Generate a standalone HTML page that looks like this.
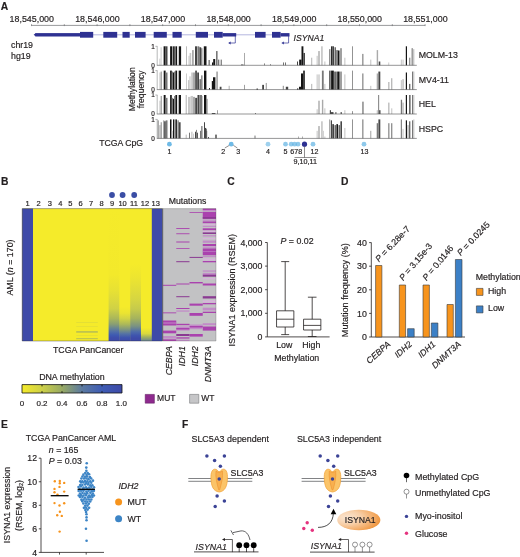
<!DOCTYPE html>
<html lang="en"><head><meta charset="utf-8"><title>ISYNA1 methylation figure</title>
<style>
html,body{margin:0;padding:0;background:#fff;}
body{width:520px;height:557px;overflow:hidden;font-family:"Liberation Sans",Arial,Helvetica,sans-serif;}
svg{display:block;}
</style></head><body>
<svg width="520" height="557" viewBox="0 0 520 557" font-family="'Liberation Sans', Arial, Helvetica, sans-serif" stroke-linejoin="round">
<style>text{stroke:#231f20;stroke-width:0.18px;}</style>
<text x="0.80" y="9.90" font-size="10.3" font-weight="bold" fill="#231f20">A</text>
<text x="1.00" y="185.30" font-size="10.3" font-weight="bold" fill="#231f20">B</text>
<text x="227.30" y="185.30" font-size="10.3" font-weight="bold" fill="#231f20">C</text>
<text x="341.00" y="185.30" font-size="10.3" font-weight="bold" fill="#231f20">D</text>
<text x="1.00" y="427.60" font-size="10.3" font-weight="bold" fill="#231f20">E</text>
<text x="182.00" y="427.60" font-size="10.3" font-weight="bold" fill="#231f20">F</text>
<line x1="31.50" y1="25.40" x2="425.10" y2="25.40" stroke="#6d6e71" stroke-width="0.7"/>
<line x1="31.50" y1="26.10" x2="31.50" y2="24.20" stroke="#6d6e71" stroke-width="0.7"/>
<line x1="64.30" y1="26.10" x2="64.30" y2="24.20" stroke="#6d6e71" stroke-width="0.7"/>
<line x1="97.10" y1="26.10" x2="97.10" y2="24.20" stroke="#6d6e71" stroke-width="0.7"/>
<line x1="129.90" y1="26.10" x2="129.90" y2="24.20" stroke="#6d6e71" stroke-width="0.7"/>
<line x1="162.70" y1="26.10" x2="162.70" y2="24.20" stroke="#6d6e71" stroke-width="0.7"/>
<line x1="195.50" y1="26.10" x2="195.50" y2="24.20" stroke="#6d6e71" stroke-width="0.7"/>
<line x1="228.30" y1="26.10" x2="228.30" y2="24.20" stroke="#6d6e71" stroke-width="0.7"/>
<line x1="261.10" y1="26.10" x2="261.10" y2="24.20" stroke="#6d6e71" stroke-width="0.7"/>
<line x1="293.90" y1="26.10" x2="293.90" y2="24.20" stroke="#6d6e71" stroke-width="0.7"/>
<line x1="326.70" y1="26.10" x2="326.70" y2="24.20" stroke="#6d6e71" stroke-width="0.7"/>
<line x1="359.50" y1="26.10" x2="359.50" y2="24.20" stroke="#6d6e71" stroke-width="0.7"/>
<line x1="392.30" y1="26.10" x2="392.30" y2="24.20" stroke="#6d6e71" stroke-width="0.7"/>
<line x1="425.10" y1="26.10" x2="425.10" y2="24.20" stroke="#6d6e71" stroke-width="0.7"/>
<text x="31.80" y="22.40" font-size="8.9" text-anchor="middle" fill="#231f20">18,545,000</text>
<text x="97.40" y="22.40" font-size="8.9" text-anchor="middle" fill="#231f20">18,546,000</text>
<text x="163.00" y="22.40" font-size="8.9" text-anchor="middle" fill="#231f20">18,547,000</text>
<text x="228.60" y="22.40" font-size="8.9" text-anchor="middle" fill="#231f20">18,548,000</text>
<text x="294.20" y="22.40" font-size="8.9" text-anchor="middle" fill="#231f20">18,549,000</text>
<text x="359.80" y="22.40" font-size="8.9" text-anchor="middle" fill="#231f20">18,550,000</text>
<text x="425.40" y="22.40" font-size="8.9" text-anchor="middle" fill="#231f20">18,551,000</text>
<line x1="35.00" y1="34.80" x2="289.00" y2="34.80" stroke="#6a6fc0" stroke-width="0.5"/>
<path d="M33.6,34.8 L36,33.0 L36,36.599999999999994 Z" fill="#2e3192"/>
<rect x="35.50" y="33.10" width="44.50" height="3.40" fill="#2e3192"/>
<rect x="80.00" y="31.90" width="13.20" height="5.80" fill="#2e3192"/>
<rect x="103.30" y="31.90" width="13.90" height="5.80" fill="#2e3192"/>
<rect x="122.50" y="31.90" width="7.20" height="5.80" fill="#2e3192"/>
<rect x="135.00" y="31.90" width="10.60" height="5.80" fill="#2e3192"/>
<rect x="153.70" y="31.90" width="13.10" height="5.80" fill="#2e3192"/>
<rect x="172.50" y="31.90" width="9.20" height="5.80" fill="#2e3192"/>
<rect x="195.80" y="31.90" width="12.20" height="5.80" fill="#2e3192"/>
<rect x="214.00" y="31.90" width="8.70" height="5.80" fill="#2e3192"/>
<rect x="255.00" y="31.90" width="10.60" height="5.80" fill="#2e3192"/>
<rect x="272.00" y="31.90" width="8.60" height="5.80" fill="#2e3192"/>
<rect x="222.50" y="33.10" width="13.70" height="3.40" fill="#2e3192"/>
<rect x="280.50" y="33.10" width="9.00" height="3.40" fill="#2e3192"/>
<path d="M235.3,34.8 V43 H229.8" fill="none" stroke="#2e3192" stroke-width="0.7"/>
<path d="M228.20000000000002,43 L230.60000000000002,41.5 L230.60000000000002,44.5 Z" fill="#2e3192"/>
<path d="M288.6,34.8 V43 H283" fill="none" stroke="#2e3192" stroke-width="0.7"/>
<path d="M281.4,43 L283.8,41.5 L283.8,44.5 Z" fill="#2e3192"/>
<text x="293.60" y="40.60" font-size="8.6" font-style="italic" fill="#231f20">ISYNA1</text>
<text x="11.00" y="47.60" font-size="8.8" fill="#231f20">chr19</text>
<text x="11.00" y="59.20" font-size="8.8" fill="#231f20">hg19</text>
<rect x="159.40" y="58.65" width="0.90" height="6.65" fill="#c8c8c8"/>
<rect x="160.60" y="47.25" width="1.00" height="18.05" fill="#c8c8c8"/>
<rect x="163.60" y="46.30" width="2.00" height="19.00" fill="#141414"/>
<rect x="165.60" y="46.30" width="1.90" height="19.00" fill="#464646"/>
<rect x="170.10" y="46.30" width="2.30" height="19.00" fill="#141414"/>
<rect x="173.10" y="46.30" width="1.60" height="19.00" fill="#141414"/>
<rect x="175.40" y="46.30" width="1.70" height="19.00" fill="#141414"/>
<rect x="178.80" y="46.30" width="2.30" height="19.00" fill="#141414"/>
<rect x="186.00" y="46.30" width="0.80" height="19.00" fill="#aaaaaa"/>
<rect x="188.50" y="55.80" width="1.10" height="9.50" fill="#c8c8c8"/>
<rect x="189.60" y="52.95" width="1.60" height="12.35" fill="#c8c8c8"/>
<rect x="192.00" y="50.10" width="1.80" height="15.20" fill="#aaaaaa"/>
<rect x="195.00" y="46.30" width="2.00" height="19.00" fill="#464646"/>
<rect x="197.40" y="46.30" width="1.90" height="19.00" fill="#787878"/>
<rect x="199.40" y="47.25" width="1.80" height="18.05" fill="#464646"/>
<rect x="201.20" y="48.20" width="1.20" height="17.10" fill="#787878"/>
<rect x="203.80" y="46.30" width="2.70" height="19.00" fill="#141414"/>
<rect x="208.70" y="59.98" width="0.80" height="5.32" fill="#141414"/>
<rect x="212.00" y="62.45" width="1.20" height="2.85" fill="#141414"/>
<rect x="213.20" y="59.03" width="2.00" height="6.27" fill="#141414"/>
<rect x="216.00" y="51.05" width="1.60" height="14.25" fill="#787878"/>
<rect x="218.00" y="59.60" width="1.30" height="5.70" fill="#787878"/>
<rect x="220.80" y="59.60" width="0.70" height="5.70" fill="#141414"/>
<rect x="241.00" y="64.35" width="2.50" height="0.95" fill="#787878"/>
<rect x="244.00" y="52.95" width="1.00" height="12.35" fill="#aaaaaa"/>
<rect x="264.00" y="63.40" width="0.50" height="1.90" fill="#141414"/>
<rect x="270.00" y="64.16" width="0.50" height="1.14" fill="#141414"/>
<rect x="283.20" y="62.45" width="0.60" height="2.85" fill="#141414"/>
<rect x="285.20" y="62.45" width="0.60" height="2.85" fill="#141414"/>
<rect x="297.00" y="61.50" width="0.80" height="3.80" fill="#141414"/>
<rect x="299.20" y="59.60" width="2.30" height="5.70" fill="#141414"/>
<rect x="301.50" y="46.30" width="1.90" height="19.00" fill="#141414"/>
<rect x="303.40" y="52.95" width="1.60" height="12.35" fill="#464646"/>
<rect x="311.30" y="57.70" width="0.90" height="7.60" fill="#aaaaaa"/>
<rect x="316.60" y="55.80" width="1.10" height="9.50" fill="#c8c8c8"/>
<rect x="318.30" y="51.05" width="1.40" height="14.25" fill="#aaaaaa"/>
<rect x="321.40" y="46.30" width="1.10" height="19.00" fill="#aaaaaa"/>
<rect x="324.30" y="61.50" width="1.10" height="3.80" fill="#c8c8c8"/>
<rect x="329.20" y="49.15" width="1.20" height="16.15" fill="#787878"/>
<rect x="331.10" y="46.30" width="1.30" height="19.00" fill="#141414"/>
<rect x="332.60" y="46.30" width="1.20" height="19.00" fill="#141414"/>
<rect x="334.60" y="47.25" width="1.20" height="18.05" fill="#464646"/>
<rect x="336.40" y="50.10" width="1.30" height="15.20" fill="#464646"/>
<rect x="338.00" y="50.48" width="1.50" height="14.82" fill="#141414"/>
<rect x="340.30" y="48.20" width="1.40" height="17.10" fill="#787878"/>
<rect x="344.30" y="57.70" width="1.10" height="7.60" fill="#c8c8c8"/>
<rect x="352.20" y="46.30" width="0.80" height="19.00" fill="#787878"/>
<rect x="362.30" y="53.90" width="1.10" height="11.40" fill="#787878"/>
<rect x="370.20" y="59.60" width="1.10" height="5.70" fill="#c8c8c8"/>
<rect x="376.70" y="50.10" width="1.40" height="15.20" fill="#aaaaaa"/>
<rect x="378.70" y="61.50" width="1.60" height="3.80" fill="#464646"/>
<rect x="388.30" y="62.45" width="0.90" height="2.85" fill="#c8c8c8"/>
<rect x="400.80" y="59.60" width="1.10" height="5.70" fill="#c8c8c8"/>
<rect x="402.50" y="59.60" width="1.10" height="5.70" fill="#c8c8c8"/>
<rect x="405.80" y="46.30" width="1.20" height="19.00" fill="#141414"/>
<rect x="409.20" y="57.70" width="1.10" height="7.60" fill="#787878"/>
<rect x="411.60" y="48.20" width="1.20" height="17.10" fill="#787878"/>
<rect x="412.80" y="49.15" width="1.60" height="16.15" fill="#c8c8c8"/>
<line x1="156.80" y1="65.30" x2="416.80" y2="65.30" stroke="#4d4d4f" stroke-width="0.6"/>
<line x1="157.20" y1="65.30" x2="157.20" y2="46.30" stroke="#6d6e71" stroke-width="0.5"/>
<line x1="155.40" y1="46.30" x2="157.40" y2="46.30" stroke="#6d6e71" stroke-width="0.5"/>
<text x="154.80" y="48.60" font-size="6.4" text-anchor="end" fill="#231f20">1</text>
<text x="154.80" y="67.60" font-size="6.4" text-anchor="end" fill="#231f20">0</text>
<rect x="159.40" y="72.50" width="1.20" height="17.10" fill="#c8c8c8"/>
<rect x="160.60" y="71.55" width="1.40" height="18.05" fill="#aaaaaa"/>
<rect x="163.70" y="70.60" width="1.90" height="19.00" fill="#141414"/>
<rect x="165.60" y="72.50" width="1.90" height="17.10" fill="#787878"/>
<rect x="170.10" y="70.60" width="1.70" height="19.00" fill="#141414"/>
<rect x="171.80" y="71.55" width="1.10" height="18.05" fill="#787878"/>
<rect x="172.90" y="72.50" width="1.20" height="17.10" fill="#141414"/>
<rect x="174.10" y="71.55" width="1.20" height="18.05" fill="#787878"/>
<rect x="175.40" y="70.60" width="1.70" height="19.00" fill="#141414"/>
<rect x="178.70" y="70.60" width="2.30" height="19.00" fill="#141414"/>
<rect x="186.00" y="73.45" width="0.90" height="16.15" fill="#c8c8c8"/>
<rect x="188.00" y="80.10" width="1.40" height="9.50" fill="#c8c8c8"/>
<rect x="189.40" y="76.30" width="1.20" height="13.30" fill="#c8c8c8"/>
<rect x="191.20" y="72.50" width="1.80" height="17.10" fill="#c8c8c8"/>
<rect x="193.00" y="72.50" width="2.00" height="17.10" fill="#aaaaaa"/>
<rect x="195.20" y="70.60" width="1.70" height="19.00" fill="#464646"/>
<rect x="197.20" y="72.50" width="1.80" height="17.10" fill="#464646"/>
<rect x="199.40" y="79.15" width="1.80" height="10.45" fill="#787878"/>
<rect x="201.20" y="75.35" width="1.30" height="14.25" fill="#787878"/>
<rect x="204.00" y="70.60" width="2.40" height="19.00" fill="#141414"/>
<rect x="209.00" y="88.08" width="1.00" height="1.52" fill="#141414"/>
<rect x="211.80" y="81.05" width="1.20" height="8.55" fill="#141414"/>
<rect x="213.00" y="77.25" width="2.40" height="12.35" fill="#141414"/>
<rect x="216.50" y="71.55" width="1.10" height="18.05" fill="#787878"/>
<rect x="219.70" y="86.75" width="1.80" height="2.85" fill="#464646"/>
<rect x="228.80" y="85.80" width="0.60" height="3.80" fill="#787878"/>
<rect x="244.30" y="84.85" width="0.70" height="4.75" fill="#787878"/>
<rect x="256.50" y="88.65" width="1.50" height="0.95" fill="#141414"/>
<rect x="262.20" y="84.85" width="1.80" height="4.75" fill="#464646"/>
<rect x="265.80" y="82.95" width="0.80" height="6.65" fill="#787878"/>
<rect x="282.80" y="85.80" width="0.90" height="3.80" fill="#787878"/>
<rect x="285.80" y="86.75" width="2.40" height="2.85" fill="#464646"/>
<rect x="297.00" y="88.46" width="1.30" height="1.14" fill="#141414"/>
<rect x="299.00" y="86.75" width="2.00" height="2.85" fill="#141414"/>
<rect x="301.00" y="73.45" width="2.00" height="16.15" fill="#141414"/>
<rect x="303.00" y="70.60" width="2.00" height="19.00" fill="#464646"/>
<rect x="311.30" y="83.90" width="0.90" height="5.70" fill="#aaaaaa"/>
<rect x="316.60" y="74.40" width="1.10" height="15.20" fill="#c8c8c8"/>
<rect x="318.30" y="74.40" width="1.40" height="15.20" fill="#c8c8c8"/>
<rect x="321.90" y="70.60" width="1.80" height="19.00" fill="#787878"/>
<rect x="324.30" y="83.90" width="1.10" height="5.70" fill="#c8c8c8"/>
<rect x="329.20" y="70.60" width="1.40" height="19.00" fill="#464646"/>
<rect x="331.10" y="70.60" width="2.70" height="19.00" fill="#141414"/>
<rect x="334.30" y="71.55" width="1.50" height="18.05" fill="#464646"/>
<rect x="336.40" y="71.55" width="1.60" height="18.05" fill="#464646"/>
<rect x="338.00" y="71.55" width="1.60" height="18.05" fill="#141414"/>
<rect x="340.30" y="71.55" width="1.40" height="18.05" fill="#787878"/>
<rect x="344.30" y="74.40" width="1.10" height="15.20" fill="#c8c8c8"/>
<rect x="352.20" y="70.60" width="0.80" height="19.00" fill="#787878"/>
<rect x="362.30" y="73.45" width="1.10" height="16.15" fill="#787878"/>
<rect x="370.20" y="85.80" width="1.10" height="3.80" fill="#c8c8c8"/>
<rect x="376.70" y="73.45" width="1.40" height="16.15" fill="#aaaaaa"/>
<rect x="378.40" y="71.55" width="1.90" height="18.05" fill="#464646"/>
<rect x="388.30" y="82.00" width="1.10" height="7.60" fill="#aaaaaa"/>
<rect x="391.20" y="78.20" width="1.10" height="11.40" fill="#aaaaaa"/>
<rect x="400.80" y="80.10" width="1.10" height="9.50" fill="#c8c8c8"/>
<rect x="402.50" y="79.15" width="1.10" height="10.45" fill="#aaaaaa"/>
<rect x="405.80" y="72.50" width="1.20" height="17.10" fill="#141414"/>
<rect x="409.20" y="83.90" width="1.10" height="5.70" fill="#464646"/>
<rect x="412.00" y="71.55" width="1.30" height="18.05" fill="#787878"/>
<rect x="413.30" y="71.55" width="1.10" height="18.05" fill="#c8c8c8"/>
<line x1="156.80" y1="89.60" x2="416.80" y2="89.60" stroke="#4d4d4f" stroke-width="0.6"/>
<line x1="157.20" y1="89.60" x2="157.20" y2="70.60" stroke="#6d6e71" stroke-width="0.5"/>
<line x1="155.40" y1="70.60" x2="157.40" y2="70.60" stroke="#6d6e71" stroke-width="0.5"/>
<text x="154.80" y="72.90" font-size="6.4" text-anchor="end" fill="#231f20">1</text>
<text x="154.80" y="91.90" font-size="6.4" text-anchor="end" fill="#231f20">0</text>
<rect x="159.40" y="100.70" width="1.20" height="13.30" fill="#c8c8c8"/>
<rect x="160.60" y="95.95" width="1.40" height="18.05" fill="#aaaaaa"/>
<rect x="163.70" y="95.00" width="1.90" height="19.00" fill="#141414"/>
<rect x="165.60" y="97.85" width="1.90" height="16.15" fill="#787878"/>
<rect x="170.10" y="95.00" width="1.70" height="19.00" fill="#141414"/>
<rect x="171.80" y="97.85" width="1.10" height="16.15" fill="#787878"/>
<rect x="172.90" y="98.80" width="1.20" height="15.20" fill="#141414"/>
<rect x="174.10" y="95.95" width="1.20" height="18.05" fill="#787878"/>
<rect x="175.40" y="95.00" width="1.70" height="19.00" fill="#141414"/>
<rect x="178.70" y="95.00" width="2.30" height="19.00" fill="#141414"/>
<rect x="185.60" y="95.00" width="1.40" height="19.00" fill="#c8c8c8"/>
<rect x="188.00" y="96.90" width="2.60" height="17.10" fill="#c8c8c8"/>
<rect x="190.60" y="95.95" width="2.40" height="18.05" fill="#c8c8c8"/>
<rect x="193.00" y="96.90" width="2.00" height="17.10" fill="#aaaaaa"/>
<rect x="195.20" y="97.85" width="2.00" height="16.15" fill="#464646"/>
<rect x="197.50" y="95.00" width="1.90" height="19.00" fill="#464646"/>
<rect x="199.40" y="95.00" width="2.60" height="19.00" fill="#787878"/>
<rect x="202.00" y="95.95" width="1.00" height="18.05" fill="#c8c8c8"/>
<rect x="204.00" y="95.00" width="2.40" height="19.00" fill="#141414"/>
<rect x="206.50" y="98.80" width="1.00" height="15.20" fill="#787878"/>
<rect x="211.80" y="113.24" width="3.60" height="0.76" fill="#141414"/>
<rect x="217.00" y="110.20" width="0.70" height="3.80" fill="#787878"/>
<rect x="255.00" y="113.05" width="0.60" height="0.95" fill="#141414"/>
<rect x="316.60" y="109.25" width="1.10" height="4.75" fill="#c8c8c8"/>
<rect x="318.30" y="100.70" width="1.40" height="13.30" fill="#aaaaaa"/>
<rect x="321.90" y="99.75" width="1.40" height="14.25" fill="#aaaaaa"/>
<rect x="324.30" y="108.30" width="1.10" height="5.70" fill="#c8c8c8"/>
<rect x="329.80" y="110.20" width="1.20" height="3.80" fill="#464646"/>
<rect x="331.00" y="112.10" width="2.50" height="1.90" fill="#464646"/>
<rect x="335.40" y="112.10" width="1.00" height="1.90" fill="#464646"/>
<rect x="340.60" y="112.10" width="1.20" height="1.90" fill="#464646"/>
<rect x="344.30" y="110.20" width="1.10" height="3.80" fill="#c8c8c8"/>
<rect x="352.20" y="111.15" width="0.80" height="2.85" fill="#787878"/>
<rect x="362.30" y="101.65" width="1.30" height="12.35" fill="#787878"/>
<rect x="376.70" y="110.20" width="1.40" height="3.80" fill="#c8c8c8"/>
<rect x="378.40" y="95.00" width="0.70" height="19.00" fill="#464646"/>
<rect x="379.10" y="110.20" width="1.40" height="3.80" fill="#464646"/>
<rect x="388.30" y="102.60" width="1.10" height="11.40" fill="#aaaaaa"/>
<rect x="391.20" y="108.30" width="1.10" height="5.70" fill="#c8c8c8"/>
<rect x="400.80" y="99.75" width="1.30" height="14.25" fill="#787878"/>
<rect x="402.50" y="102.60" width="1.10" height="11.40" fill="#aaaaaa"/>
<rect x="405.80" y="95.00" width="1.20" height="19.00" fill="#141414"/>
<rect x="409.20" y="95.00" width="1.30" height="19.00" fill="#464646"/>
<rect x="412.00" y="95.00" width="1.30" height="19.00" fill="#787878"/>
<rect x="413.30" y="95.00" width="1.10" height="19.00" fill="#c8c8c8"/>
<line x1="156.80" y1="114.00" x2="416.80" y2="114.00" stroke="#4d4d4f" stroke-width="0.6"/>
<line x1="157.20" y1="114.00" x2="157.20" y2="95.00" stroke="#6d6e71" stroke-width="0.5"/>
<line x1="155.40" y1="95.00" x2="157.40" y2="95.00" stroke="#6d6e71" stroke-width="0.5"/>
<text x="154.80" y="97.30" font-size="6.4" text-anchor="end" fill="#231f20">1</text>
<text x="154.80" y="116.30" font-size="6.4" text-anchor="end" fill="#231f20">0</text>
<rect x="157.60" y="120.35" width="1.40" height="18.05" fill="#aaaaaa"/>
<rect x="159.40" y="125.10" width="1.20" height="13.30" fill="#aaaaaa"/>
<rect x="160.60" y="122.25" width="1.40" height="16.15" fill="#aaaaaa"/>
<rect x="163.00" y="120.35" width="1.40" height="18.05" fill="#aaaaaa"/>
<rect x="164.40" y="121.30" width="1.20" height="17.10" fill="#141414"/>
<rect x="165.60" y="120.35" width="1.90" height="18.05" fill="#787878"/>
<rect x="170.00" y="119.40" width="1.50" height="19.00" fill="#141414"/>
<rect x="171.50" y="130.80" width="1.00" height="7.60" fill="#aaaaaa"/>
<rect x="173.00" y="119.40" width="1.40" height="19.00" fill="#141414"/>
<rect x="175.40" y="119.40" width="1.50" height="19.00" fill="#141414"/>
<rect x="177.50" y="120.35" width="1.20" height="18.05" fill="#787878"/>
<rect x="178.70" y="122.25" width="1.90" height="16.15" fill="#464646"/>
<rect x="185.60" y="134.60" width="1.30" height="3.80" fill="#c8c8c8"/>
<rect x="189.00" y="132.70" width="1.00" height="5.70" fill="#787878"/>
<rect x="191.20" y="131.75" width="1.30" height="6.65" fill="#c8c8c8"/>
<rect x="193.10" y="133.65" width="0.90" height="4.75" fill="#c8c8c8"/>
<rect x="195.00" y="131.75" width="1.00" height="6.65" fill="#464646"/>
<rect x="196.00" y="129.85" width="0.90" height="8.55" fill="#787878"/>
<rect x="196.90" y="132.70" width="1.00" height="5.70" fill="#464646"/>
<rect x="200.00" y="130.80" width="1.20" height="7.60" fill="#787878"/>
<rect x="201.20" y="126.05" width="1.30" height="12.35" fill="#787878"/>
<rect x="204.00" y="122.25" width="1.00" height="16.15" fill="#464646"/>
<rect x="205.00" y="127.95" width="1.20" height="10.45" fill="#464646"/>
<rect x="206.20" y="130.80" width="1.00" height="7.60" fill="#787878"/>
<rect x="208.20" y="137.07" width="0.80" height="1.33" fill="#141414"/>
<rect x="205.00" y="128.90" width="1.60" height="9.50" fill="#464646"/>
<rect x="215.00" y="134.60" width="2.00" height="3.80" fill="#787878"/>
<rect x="254.50" y="135.55" width="1.00" height="2.85" fill="#787878"/>
<rect x="298.20" y="136.50" width="0.60" height="1.90" fill="#787878"/>
<rect x="302.20" y="136.50" width="0.60" height="1.90" fill="#787878"/>
<rect x="316.60" y="130.80" width="1.10" height="7.60" fill="#c8c8c8"/>
<rect x="318.30" y="126.05" width="1.40" height="12.35" fill="#aaaaaa"/>
<rect x="321.40" y="121.30" width="1.10" height="17.10" fill="#aaaaaa"/>
<rect x="322.90" y="130.80" width="0.90" height="7.60" fill="#c8c8c8"/>
<rect x="324.30" y="136.50" width="1.10" height="1.90" fill="#c8c8c8"/>
<rect x="329.00" y="119.40" width="1.20" height="19.00" fill="#aaaaaa"/>
<rect x="330.80" y="120.35" width="1.20" height="18.05" fill="#464646"/>
<rect x="332.40" y="124.15" width="1.40" height="14.25" fill="#141414"/>
<rect x="334.60" y="125.10" width="1.20" height="13.30" fill="#464646"/>
<rect x="336.40" y="124.15" width="1.60" height="14.25" fill="#141414"/>
<rect x="338.60" y="125.10" width="1.20" height="13.30" fill="#464646"/>
<rect x="340.40" y="121.30" width="1.60" height="17.10" fill="#464646"/>
<rect x="344.30" y="127.95" width="1.10" height="10.45" fill="#c8c8c8"/>
<rect x="352.20" y="119.40" width="0.80" height="19.00" fill="#787878"/>
<rect x="362.30" y="119.40" width="1.10" height="19.00" fill="#787878"/>
<rect x="370.20" y="130.80" width="1.10" height="7.60" fill="#aaaaaa"/>
<rect x="376.70" y="123.20" width="1.40" height="15.20" fill="#787878"/>
<rect x="378.40" y="119.40" width="1.90" height="19.00" fill="#464646"/>
<rect x="388.30" y="123.20" width="1.10" height="15.20" fill="#787878"/>
<rect x="391.20" y="123.20" width="1.10" height="15.20" fill="#787878"/>
<rect x="400.80" y="119.40" width="1.10" height="19.00" fill="#787878"/>
<rect x="402.50" y="128.90" width="1.10" height="9.50" fill="#c8c8c8"/>
<rect x="405.80" y="120.35" width="1.20" height="18.05" fill="#141414"/>
<rect x="407.50" y="125.10" width="1.10" height="13.30" fill="#aaaaaa"/>
<rect x="409.20" y="121.30" width="1.10" height="17.10" fill="#464646"/>
<rect x="412.00" y="120.35" width="1.30" height="18.05" fill="#787878"/>
<rect x="413.30" y="119.40" width="1.10" height="19.00" fill="#c8c8c8"/>
<line x1="156.80" y1="138.40" x2="416.80" y2="138.40" stroke="#4d4d4f" stroke-width="0.6"/>
<line x1="157.20" y1="138.40" x2="157.20" y2="119.40" stroke="#6d6e71" stroke-width="0.5"/>
<line x1="155.40" y1="119.40" x2="157.40" y2="119.40" stroke="#6d6e71" stroke-width="0.5"/>
<text x="154.80" y="121.70" font-size="6.4" text-anchor="end" fill="#231f20">1</text>
<text x="154.80" y="140.70" font-size="6.4" text-anchor="end" fill="#231f20">0</text>
<text x="418.70" y="58.30" font-size="8.8" fill="#231f20">MOLM-13</text>
<text x="418.70" y="82.80" font-size="8.8" fill="#231f20">MV4-11</text>
<text x="418.70" y="107.10" font-size="8.8" fill="#231f20">HEL</text>
<text x="418.70" y="131.90" font-size="8.8" fill="#231f20">HSPC</text>
<text transform="translate(134.60,89.30) rotate(-90)" font-size="8.6" text-anchor="middle" fill="#231f20">Methylation</text>
<text transform="translate(144.40,89.30) rotate(-90)" font-size="8.6" text-anchor="middle" fill="#231f20">frequency</text>
<text x="99.20" y="146.40" font-size="8.7" fill="#231f20">TCGA CpG</text>
<circle cx="169.40" cy="144.20" r="2.40" fill="#5fb2e3" fill-opacity="0.9"/>
<circle cx="231.20" cy="144.20" r="2.40" fill="#5fb2e3" fill-opacity="0.9"/>
<circle cx="268.00" cy="144.20" r="2.40" fill="#5fb2e3" fill-opacity="0.6"/>
<circle cx="285.50" cy="144.20" r="2.40" fill="#5fb2e3" fill-opacity="0.7"/>
<circle cx="291.20" cy="144.20" r="2.40" fill="#5fb2e3" fill-opacity="0.7"/>
<circle cx="294.60" cy="144.20" r="2.40" fill="#5fb2e3" fill-opacity="0.7"/>
<circle cx="298.00" cy="144.20" r="2.40" fill="#5fb2e3" fill-opacity="0.7"/>
<circle cx="313.00" cy="144.20" r="2.40" fill="#5fb2e3" fill-opacity="0.7"/>
<circle cx="364.00" cy="144.20" r="2.40" fill="#5fb2e3" fill-opacity="0.7"/>
<circle cx="304.50" cy="144.20" r="2.60" fill="#2e3192"/>
<line x1="229.20" y1="145.40" x2="224.80" y2="148.00" stroke="#231f20" stroke-width="0.5"/>
<line x1="233.40" y1="145.40" x2="237.40" y2="148.00" stroke="#231f20" stroke-width="0.5"/>
<text x="169.40" y="153.90" font-size="7.1" text-anchor="middle" fill="#231f20">1</text>
<text x="223.30" y="153.90" font-size="7.1" text-anchor="middle" fill="#231f20">2</text>
<text x="238.30" y="153.90" font-size="7.1" text-anchor="middle" fill="#231f20">3</text>
<text x="268.00" y="153.90" font-size="7.1" text-anchor="middle" fill="#231f20">4</text>
<text x="285.50" y="153.90" font-size="7.1" text-anchor="middle" fill="#231f20">5</text>
<text x="296.20" y="153.90" font-size="7.1" text-anchor="middle" fill="#231f20">678</text>
<text x="314.50" y="153.90" font-size="7.1" text-anchor="middle" fill="#231f20">12</text>
<text x="364.50" y="153.90" font-size="7.1" text-anchor="middle" fill="#231f20">13</text>
<line x1="304.50" y1="146.50" x2="304.50" y2="157.50" stroke="#231f20" stroke-width="0.5"/>
<line x1="294.50" y1="157.50" x2="316.30" y2="157.50" stroke="#231f20" stroke-width="0.5"/>
<text x="305.30" y="163.90" font-size="7.2" text-anchor="middle" fill="#231f20">9,10,11</text>
<defs>
<linearGradient id="g9" x1="0" y1="0" x2="0" y2="1">
<stop offset="0" stop-color="#f5eb2a"/>
<stop offset="0.5" stop-color="#f3e92b"/>
<stop offset="0.54" stop-color="#efe62e"/>
<stop offset="0.62" stop-color="#e7e134"/>
<stop offset="0.683" stop-color="#ddda3c"/>
<stop offset="0.756" stop-color="#cfd146"/>
<stop offset="0.829" stop-color="#aab75a"/>
<stop offset="0.873" stop-color="#899e73"/>
<stop offset="0.902" stop-color="#6a8691"/>
<stop offset="0.93" stop-color="#506ea8"/>
<stop offset="0.955" stop-color="#3e5ab2"/>
<stop offset="0.975" stop-color="#3e4eab"/>
<stop offset="1" stop-color="#3e4aa8"/>
</linearGradient>
<linearGradient id="g10" x1="0" y1="0" x2="0" y2="1">
<stop offset="0" stop-color="#f5eb2a"/>
<stop offset="0.74" stop-color="#f5eb2a"/>
<stop offset="0.79" stop-color="#ebe431"/>
<stop offset="0.829" stop-color="#d3d443"/>
<stop offset="0.873" stop-color="#adb958"/>
<stop offset="0.917" stop-color="#7a9282"/>
<stop offset="0.946" stop-color="#5472a5"/>
<stop offset="0.975" stop-color="#3e53ae"/>
<stop offset="1" stop-color="#3e4aa8"/>
</linearGradient>
<linearGradient id="g11" x1="0" y1="0" x2="0" y2="1">
<stop offset="0" stop-color="#f5eb2a"/>
<stop offset="0.42" stop-color="#f5eb2a"/>
<stop offset="0.52" stop-color="#ede530"/>
<stop offset="0.61" stop-color="#e1dd39"/>
<stop offset="0.69" stop-color="#d5d542"/>
<stop offset="0.76" stop-color="#c5ca4c"/>
<stop offset="0.829" stop-color="#a5b35d"/>
<stop offset="0.888" stop-color="#7a9282"/>
<stop offset="0.931" stop-color="#4d6baa"/>
<stop offset="0.96" stop-color="#3e53ae"/>
<stop offset="0.98" stop-color="#3e4aa8"/>
<stop offset="1" stop-color="#3e4aa8"/>
</linearGradient>
<linearGradient id="g12" x1="0" y1="0" x2="0" y2="1">
<stop offset="0" stop-color="#f5eb2a"/>
<stop offset="0.9" stop-color="#f5eb2a"/>
<stop offset="0.945" stop-color="#d9d83f"/>
<stop offset="0.97" stop-color="#a2b15e"/>
<stop offset="1" stop-color="#6a8691"/>
</linearGradient>
<linearGradient id="cb" x1="0" y1="0" x2="1" y2="0">
<stop offset="0" stop-color="#f5eb2a"/>
<stop offset="0.1" stop-color="#e1dd39"/>
<stop offset="0.2" stop-color="#cdd048"/>
<stop offset="0.3" stop-color="#b2bd56"/>
<stop offset="0.4" stop-color="#98aa64"/>
<stop offset="0.5" stop-color="#7a9282"/>
<stop offset="0.6" stop-color="#5c7aa0"/>
<stop offset="0.7" stop-color="#4d6baa"/>
<stop offset="0.8" stop-color="#3e5cb4"/>
<stop offset="0.9" stop-color="#3e53ae"/>
<stop offset="1" stop-color="#3e4aa8"/>
</linearGradient>
<radialGradient id="isy" cx="0.22" cy="0.38" r="0.85"><stop offset="0" stop-color="#fbe6d2"/><stop offset="0.4" stop-color="#f7cfa8"/><stop offset="0.75" stop-color="#f3ab65"/><stop offset="1" stop-color="#ee8e30"/></radialGradient>
<radialGradient id="tr" cx="0.5" cy="0.45" r="0.6"><stop offset="0" stop-color="#f6a94a"/><stop offset="1" stop-color="#fbd08f"/></radialGradient>
</defs>
<rect x="22.20" y="208.60" width="140.40" height="132.40" fill="#f5eb2a"/>
<rect x="22.20" y="208.60" width="10.80" height="132.40" fill="#3e4aa8"/>
<rect x="108.60" y="208.60" width="11.20" height="132.40" fill="url(#g9)"/>
<rect x="119.40" y="208.60" width="11.20" height="132.40" fill="url(#g10)"/>
<rect x="130.20" y="208.60" width="11.20" height="132.40" fill="url(#g11)"/>
<rect x="141.00" y="208.60" width="11.20" height="132.40" fill="url(#g12)"/>
<rect x="151.80" y="208.60" width="10.80" height="132.40" fill="#3e4aa8"/>
<rect x="76.20" y="322.00" width="21.60" height="0.70" fill="#ddda3c"/>
<rect x="76.20" y="326.00" width="21.60" height="0.70" fill="#e1dd39"/>
<rect x="76.20" y="331.50" width="21.60" height="0.90" fill="#899e73"/>
<rect x="76.20" y="335.00" width="21.60" height="0.60" fill="#e1dd39"/>
<rect x="76.20" y="338.20" width="21.60" height="1.00" fill="#b2bd56"/>
<rect x="22.20" y="208.60" width="140.40" height="132.40" fill="none" stroke="#2a2a40" stroke-width="0.4"/>
<text x="27.50" y="205.80" font-size="7.5" text-anchor="middle" fill="#231f20">1</text>
<text x="38.70" y="205.80" font-size="7.5" text-anchor="middle" fill="#231f20">2</text>
<text x="49.80" y="205.80" font-size="7.5" text-anchor="middle" fill="#231f20">3</text>
<text x="60.30" y="205.80" font-size="7.5" text-anchor="middle" fill="#231f20">4</text>
<text x="70.40" y="205.80" font-size="7.5" text-anchor="middle" fill="#231f20">5</text>
<text x="80.70" y="205.80" font-size="7.5" text-anchor="middle" fill="#231f20">6</text>
<text x="91.20" y="205.80" font-size="7.5" text-anchor="middle" fill="#231f20">7</text>
<text x="101.60" y="205.80" font-size="7.5" text-anchor="middle" fill="#231f20">8</text>
<text x="112.00" y="205.80" font-size="7.5" text-anchor="middle" fill="#231f20">9</text>
<text x="122.60" y="205.80" font-size="7.5" text-anchor="middle" fill="#231f20">10</text>
<text x="134.00" y="205.80" font-size="7.5" text-anchor="middle" fill="#231f20">11</text>
<text x="145.00" y="205.80" font-size="7.5" text-anchor="middle" fill="#231f20">12</text>
<text x="155.70" y="205.80" font-size="7.5" text-anchor="middle" fill="#231f20">13</text>
<circle cx="112.00" cy="195.00" r="2.90" fill="#3b4ea5"/>
<circle cx="122.60" cy="195.00" r="2.90" fill="#3b4ea5"/>
<circle cx="134.20" cy="195.00" r="2.90" fill="#3b4ea5"/>
<text transform="translate(12.60,267.50) rotate(-90)" font-size="8.9" text-anchor="middle" fill="#231f20">AML (<tspan font-style="italic">n</tspan> = 170)</text>
<text x="88.20" y="353.10" font-size="8.8" text-anchor="middle" fill="#231f20">TCGA PanCancer</text>
<text x="71.90" y="379.50" font-size="8.8" text-anchor="middle" fill="#231f20">DNA methylation</text>
<rect x="22.00" y="384.60" width="100.00" height="8.40" fill="url(#cb)" stroke="#111" stroke-width="0.8"/>
<line x1="42.00" y1="384.60" x2="42.00" y2="386.40" stroke="#111" stroke-width="0.9"/>
<line x1="42.00" y1="391.20" x2="42.00" y2="393.00" stroke="#111" stroke-width="0.9"/>
<line x1="62.00" y1="384.60" x2="62.00" y2="386.40" stroke="#111" stroke-width="0.9"/>
<line x1="62.00" y1="391.20" x2="62.00" y2="393.00" stroke="#111" stroke-width="0.9"/>
<line x1="82.00" y1="384.60" x2="82.00" y2="386.40" stroke="#111" stroke-width="0.9"/>
<line x1="82.00" y1="391.20" x2="82.00" y2="393.00" stroke="#111" stroke-width="0.9"/>
<line x1="102.00" y1="384.60" x2="102.00" y2="386.40" stroke="#111" stroke-width="0.9"/>
<line x1="102.00" y1="391.20" x2="102.00" y2="393.00" stroke="#111" stroke-width="0.9"/>
<text x="22.00" y="405.60" font-size="8" text-anchor="middle" fill="#231f20">0</text>
<text x="42.00" y="405.60" font-size="8" text-anchor="middle" fill="#231f20">0.2</text>
<text x="62.00" y="405.60" font-size="8" text-anchor="middle" fill="#231f20">0.4</text>
<text x="82.00" y="405.60" font-size="8" text-anchor="middle" fill="#231f20">0.6</text>
<text x="102.00" y="405.60" font-size="8" text-anchor="middle" fill="#231f20">0.8</text>
<text x="121.30" y="405.60" font-size="8" text-anchor="middle" fill="#231f20">1.0</text>
<rect x="163.00" y="208.60" width="53.00" height="132.40" fill="#c2c2c4"/>
<rect x="202.75" y="208.60" width="13.25" height="1.40" fill="#aa42ae"/>
<rect x="202.75" y="210.00" width="13.25" height="1.30" fill="#c28cc8"/>
<rect x="202.75" y="211.90" width="13.25" height="6.90" fill="#aa42ae"/>
<rect x="202.75" y="217.10" width="13.25" height="1.60" fill="#8a3a92"/>
<rect x="202.75" y="219.50" width="13.25" height="1.30" fill="#c28cc8"/>
<rect x="202.75" y="221.40" width="13.25" height="1.80" fill="#aa42ae"/>
<rect x="202.75" y="223.90" width="13.25" height="1.20" fill="#d6b4da"/>
<rect x="202.75" y="225.80" width="13.25" height="1.20" fill="#c28cc8"/>
<rect x="202.75" y="228.30" width="13.25" height="1.90" fill="#aa42ae"/>
<rect x="202.75" y="230.80" width="13.25" height="1.20" fill="#d6b4da"/>
<rect x="202.75" y="232.40" width="13.25" height="1.60" fill="#8a3a92"/>
<rect x="202.75" y="235.20" width="13.25" height="1.30" fill="#c28cc8"/>
<rect x="202.75" y="238.00" width="13.25" height="1.20" fill="#d6b4da"/>
<rect x="202.75" y="240.50" width="13.25" height="2.30" fill="#c28cc8"/>
<rect x="202.75" y="244.00" width="13.25" height="2.00" fill="#aa42ae"/>
<rect x="202.75" y="246.50" width="13.25" height="1.30" fill="#c28cc8"/>
<rect x="202.75" y="248.40" width="13.25" height="6.90" fill="#aa42ae"/>
<rect x="202.75" y="251.00" width="13.25" height="0.60" fill="#c28cc8"/>
<rect x="202.75" y="256.00" width="13.25" height="1.20" fill="#c28cc8"/>
<rect x="202.75" y="258.50" width="13.25" height="1.80" fill="#d6b4da"/>
<rect x="202.75" y="261.00" width="13.25" height="1.30" fill="#aa42ae"/>
<rect x="202.75" y="270.40" width="13.25" height="1.30" fill="#c28cc8"/>
<rect x="202.75" y="272.90" width="13.25" height="2.10" fill="#c28cc8"/>
<rect x="202.75" y="274.70" width="13.25" height="2.00" fill="#8a3a92"/>
<rect x="202.75" y="278.00" width="13.25" height="1.40" fill="#d6b4da"/>
<rect x="202.75" y="283.50" width="13.25" height="2.00" fill="#aa42ae"/>
<rect x="202.75" y="296.20" width="13.25" height="2.30" fill="#8a3a92"/>
<rect x="202.75" y="300.30" width="13.25" height="2.00" fill="#d6b4da"/>
<rect x="202.75" y="303.00" width="13.25" height="1.30" fill="#aa42ae"/>
<rect x="202.75" y="307.70" width="13.25" height="2.70" fill="#c28cc8"/>
<rect x="202.75" y="311.70" width="13.25" height="1.30" fill="#aa42ae"/>
<rect x="202.75" y="323.20" width="13.25" height="2.00" fill="#c28cc8"/>
<rect x="202.75" y="326.50" width="13.25" height="4.10" fill="#aa42ae"/>
<rect x="189.50" y="212.20" width="13.25" height="0.80" fill="#aa42ae"/>
<rect x="189.50" y="256.90" width="13.25" height="1.00" fill="#8a3a92"/>
<rect x="189.50" y="282.00" width="13.25" height="1.40" fill="#aa42ae"/>
<rect x="189.50" y="303.60" width="13.25" height="2.10" fill="#aa42ae"/>
<rect x="189.50" y="313.00" width="13.25" height="2.80" fill="#aa42ae"/>
<rect x="189.50" y="324.50" width="13.25" height="4.70" fill="#c28cc8"/>
<rect x="189.50" y="326.00" width="13.25" height="1.50" fill="#aa42ae"/>
<rect x="189.50" y="334.00" width="13.25" height="2.60" fill="#aa42ae"/>
<rect x="176.25" y="228.00" width="13.25" height="0.90" fill="#aa42ae"/>
<rect x="176.25" y="233.30" width="13.25" height="0.90" fill="#aa42ae"/>
<rect x="176.25" y="241.50" width="13.25" height="1.00" fill="#aa42ae"/>
<rect x="176.25" y="248.00" width="13.25" height="0.80" fill="#aa42ae"/>
<rect x="176.25" y="261.20" width="13.25" height="1.00" fill="#8a3a92"/>
<rect x="176.25" y="283.50" width="13.25" height="1.00" fill="#aa42ae"/>
<rect x="176.25" y="296.20" width="13.25" height="1.00" fill="#8a3a92"/>
<rect x="176.25" y="308.00" width="13.25" height="1.00" fill="#aa42ae"/>
<rect x="176.25" y="310.40" width="13.25" height="1.30" fill="#c28cc8"/>
<rect x="176.25" y="323.80" width="13.25" height="1.40" fill="#aa42ae"/>
<rect x="176.25" y="326.50" width="13.25" height="4.10" fill="#c28cc8"/>
<rect x="176.25" y="328.00" width="13.25" height="1.50" fill="#aa42ae"/>
<rect x="176.25" y="334.00" width="13.25" height="2.00" fill="#8a3a92"/>
<rect x="176.25" y="337.30" width="13.25" height="1.30" fill="#aa42ae"/>
<rect x="176.25" y="339.70" width="13.25" height="1.30" fill="#c28cc8"/>
<rect x="163.00" y="284.80" width="13.25" height="1.00" fill="#aa42ae"/>
<rect x="163.00" y="312.40" width="13.25" height="0.90" fill="#aa42ae"/>
<rect x="163.00" y="320.50" width="13.25" height="5.00" fill="#aa42ae"/>
<rect x="163.00" y="322.50" width="13.25" height="1.00" fill="#c28cc8"/>
<rect x="163.00" y="330.60" width="13.25" height="2.70" fill="#aa42ae"/>
<rect x="163.00" y="336.00" width="13.25" height="2.60" fill="#c28cc8"/>
<rect x="163.00" y="339.30" width="13.25" height="1.70" fill="#aa42ae"/>
<rect x="163.00" y="208.60" width="53.00" height="132.40" fill="none" stroke="#555" stroke-width="0.3"/>
<text x="187.50" y="203.80" font-size="8.7" text-anchor="middle" fill="#231f20">Mutations</text>
<text transform="translate(171.80,346.20) rotate(-90)" font-size="8.8" text-anchor="end" font-style="italic" fill="#231f20">CEBPA</text>
<text transform="translate(185.20,346.20) rotate(-90)" font-size="8.8" text-anchor="end" font-style="italic" fill="#231f20">IDH1</text>
<text transform="translate(197.70,346.20) rotate(-90)" font-size="8.8" text-anchor="end" font-style="italic" fill="#231f20">IDH2</text>
<text transform="translate(211.30,346.20) rotate(-90)" font-size="8.8" text-anchor="end" font-style="italic" fill="#231f20">DNMT3A</text>
<rect x="145.20" y="394.40" width="9.20" height="8.80" fill="#8e2a8e" stroke="#5b1a5b" stroke-width="0.5"/>
<text x="157.10" y="400.90" font-size="8.5" fill="#231f20">MUT</text>
<rect x="189.60" y="394.40" width="9.20" height="8.80" fill="#c6c6c8" stroke="#77787b" stroke-width="0.6"/>
<text x="201.30" y="400.90" font-size="8.5" fill="#231f20">WT</text>
<line x1="267.30" y1="336.90" x2="267.30" y2="242.50" stroke="#231f20" stroke-width="0.8"/>
<line x1="267.30" y1="336.90" x2="329.60" y2="336.90" stroke="#231f20" stroke-width="0.8"/>
<line x1="267.30" y1="336.90" x2="265.10" y2="336.90" stroke="#231f20" stroke-width="0.8"/>
<text x="262.40" y="340.00" font-size="8.8" text-anchor="end" fill="#231f20">0</text>
<line x1="267.30" y1="313.30" x2="265.10" y2="313.30" stroke="#231f20" stroke-width="0.8"/>
<text x="262.40" y="316.40" font-size="8.8" text-anchor="end" fill="#231f20">1,000</text>
<line x1="267.30" y1="289.70" x2="265.10" y2="289.70" stroke="#231f20" stroke-width="0.8"/>
<text x="262.40" y="292.80" font-size="8.8" text-anchor="end" fill="#231f20">2,000</text>
<line x1="267.30" y1="266.10" x2="265.10" y2="266.10" stroke="#231f20" stroke-width="0.8"/>
<text x="262.40" y="269.20" font-size="8.8" text-anchor="end" fill="#231f20">3,000</text>
<line x1="267.30" y1="242.50" x2="265.10" y2="242.50" stroke="#231f20" stroke-width="0.8"/>
<text x="262.40" y="245.60" font-size="8.8" text-anchor="end" fill="#231f20">4,000</text>
<rect x="276.55" y="310.80" width="17.30" height="16.20" fill="#fff" stroke="#231f20" stroke-width="0.8"/>
<line x1="276.55" y1="319.20" x2="293.85" y2="319.20" stroke="#231f20" stroke-width="0.8"/>
<line x1="285.20" y1="310.80" x2="285.20" y2="261.60" stroke="#231f20" stroke-width="0.8"/>
<line x1="285.20" y1="327.00" x2="285.20" y2="334.60" stroke="#231f20" stroke-width="0.8"/>
<line x1="281.20" y1="261.60" x2="289.20" y2="261.60" stroke="#231f20" stroke-width="0.8"/>
<line x1="281.20" y1="334.60" x2="289.20" y2="334.60" stroke="#231f20" stroke-width="0.8"/>
<rect x="303.55" y="319.20" width="17.30" height="10.80" fill="#fff" stroke="#231f20" stroke-width="0.8"/>
<line x1="303.55" y1="325.40" x2="320.85" y2="325.40" stroke="#231f20" stroke-width="0.8"/>
<line x1="312.20" y1="319.20" x2="312.20" y2="297.20" stroke="#231f20" stroke-width="0.8"/>
<line x1="312.20" y1="330.00" x2="312.20" y2="336.50" stroke="#231f20" stroke-width="0.8"/>
<line x1="307.90" y1="297.20" x2="316.50" y2="297.20" stroke="#231f20" stroke-width="0.8"/>
<line x1="307.90" y1="336.50" x2="316.50" y2="336.50" stroke="#231f20" stroke-width="0.8"/>
<text x="284.30" y="347.90" font-size="8.8" text-anchor="middle" fill="#231f20">Low</text>
<text x="311.30" y="347.90" font-size="8.8" text-anchor="middle" fill="#231f20">High</text>
<text x="296.70" y="360.80" font-size="8.8" text-anchor="middle" fill="#231f20">Methylation</text>
<text x="280.50" y="243.50" font-size="8.8" fill="#231f20"><tspan font-style="italic">P</tspan> = 0.02</text>
<text transform="translate(235.20,290.30) rotate(-90)" font-size="9.0" text-anchor="middle" fill="#231f20">ISYNA1 expression (RSEM)</text>
<line x1="371.30" y1="337.00" x2="371.30" y2="242.50" stroke="#231f20" stroke-width="0.8"/>
<line x1="371.30" y1="337.00" x2="465.00" y2="337.00" stroke="#231f20" stroke-width="0.8"/>
<line x1="371.30" y1="337.00" x2="369.10" y2="337.00" stroke="#231f20" stroke-width="0.8"/>
<text x="366.90" y="340.10" font-size="8.8" text-anchor="end" fill="#231f20">0</text>
<line x1="371.30" y1="313.40" x2="369.10" y2="313.40" stroke="#231f20" stroke-width="0.8"/>
<text x="366.90" y="316.50" font-size="8.8" text-anchor="end" fill="#231f20">10</text>
<line x1="371.30" y1="289.80" x2="369.10" y2="289.80" stroke="#231f20" stroke-width="0.8"/>
<text x="366.90" y="292.90" font-size="8.8" text-anchor="end" fill="#231f20">20</text>
<line x1="371.30" y1="266.20" x2="369.10" y2="266.20" stroke="#231f20" stroke-width="0.8"/>
<text x="366.90" y="269.30" font-size="8.8" text-anchor="end" fill="#231f20">30</text>
<line x1="371.30" y1="242.60" x2="369.10" y2="242.60" stroke="#231f20" stroke-width="0.8"/>
<text x="366.90" y="245.70" font-size="8.8" text-anchor="end" fill="#231f20">40</text>
<rect x="375.60" y="265.50" width="6.30" height="71.50" fill="#f7941d" stroke="#3a3a3a" stroke-width="0.6"/>
<rect x="399.30" y="285.00" width="6.30" height="52.00" fill="#f7941d" stroke="#3a3a3a" stroke-width="0.6"/>
<rect x="407.60" y="328.70" width="6.60" height="8.30" fill="#3c80c6" stroke="#3a3a3a" stroke-width="0.6"/>
<rect x="423.00" y="285.00" width="6.40" height="52.00" fill="#f7941d" stroke="#3a3a3a" stroke-width="0.6"/>
<rect x="431.30" y="323.00" width="6.60" height="14.00" fill="#3c80c6" stroke="#3a3a3a" stroke-width="0.6"/>
<rect x="447.00" y="304.50" width="6.30" height="32.50" fill="#f7941d" stroke="#3a3a3a" stroke-width="0.6"/>
<rect x="455.40" y="259.50" width="6.60" height="77.50" fill="#3c80c6" stroke="#3a3a3a" stroke-width="0.6"/>
<text transform="translate(379.10,262.60) rotate(-46.5)" font-size="8.8" fill="#231f20"><tspan font-style="italic">P</tspan> = 6.28e-7</text>
<text transform="translate(403.20,281.20) rotate(-50)" font-size="8.8" fill="#231f20"><tspan font-style="italic">P</tspan> = 3.15e-3</text>
<text transform="translate(426.50,281.20) rotate(-50)" font-size="8.8" fill="#231f20"><tspan font-style="italic">P</tspan> = 0.0146</text>
<text transform="translate(460.80,256.20) rotate(-46.5)" font-size="8.8" fill="#231f20"><tspan font-style="italic">P</tspan> = 0.0245</text>
<text transform="translate(391.00,345.00) rotate(-42)" font-size="8.7" text-anchor="end" font-style="italic" fill="#231f20">CEBPA</text>
<text transform="translate(412.50,345.00) rotate(-42)" font-size="8.7" text-anchor="end" font-style="italic" fill="#231f20">IDH2</text>
<text transform="translate(436.00,345.00) rotate(-42)" font-size="8.7" text-anchor="end" font-style="italic" fill="#231f20">IDH1</text>
<text transform="translate(461.50,345.00) rotate(-42)" font-size="8.7" text-anchor="end" font-style="italic" fill="#231f20">DNMT3A</text>
<text transform="translate(347.80,290.20) rotate(-90)" font-size="9.1" text-anchor="middle" fill="#231f20">Mutation frequency (%)</text>
<text x="475.70" y="279.60" font-size="8.8" fill="#231f20">Methylation</text>
<rect x="476.40" y="288.40" width="6.60" height="7.00" fill="#f7941d" stroke="#3a3a3a" stroke-width="0.6"/>
<text x="488.00" y="293.90" font-size="8.8" fill="#231f20">High</text>
<rect x="476.40" y="305.90" width="6.60" height="7.00" fill="#3c80c6" stroke="#3a3a3a" stroke-width="0.6"/>
<text x="488.00" y="311.40" font-size="8.8" fill="#231f20">Low</text>
<line x1="41.00" y1="552.40" x2="41.00" y2="458.20" stroke="#231f20" stroke-width="0.8"/>
<line x1="41.00" y1="552.40" x2="104.00" y2="552.40" stroke="#231f20" stroke-width="0.8"/>
<line x1="41.00" y1="552.40" x2="38.80" y2="552.40" stroke="#231f20" stroke-width="0.8"/>
<text x="37.00" y="555.50" font-size="8.7" text-anchor="end" fill="#231f20">4</text>
<line x1="41.00" y1="528.85" x2="38.80" y2="528.85" stroke="#231f20" stroke-width="0.8"/>
<text x="37.00" y="531.95" font-size="8.7" text-anchor="end" fill="#231f20">6</text>
<line x1="41.00" y1="505.30" x2="38.80" y2="505.30" stroke="#231f20" stroke-width="0.8"/>
<text x="37.00" y="508.40" font-size="8.7" text-anchor="end" fill="#231f20">8</text>
<line x1="41.00" y1="481.75" x2="38.80" y2="481.75" stroke="#231f20" stroke-width="0.8"/>
<text x="37.00" y="484.85" font-size="8.7" text-anchor="end" fill="#231f20">10</text>
<line x1="41.00" y1="458.20" x2="38.80" y2="458.20" stroke="#231f20" stroke-width="0.8"/>
<text x="37.00" y="461.30" font-size="8.7" text-anchor="end" fill="#231f20">12</text>
<line x1="59.50" y1="552.40" x2="59.50" y2="554.60" stroke="#231f20" stroke-width="0.8"/>
<line x1="86.20" y1="552.40" x2="86.20" y2="554.60" stroke="#231f20" stroke-width="0.8"/>
<text x="70.90" y="440.60" font-size="8.8" text-anchor="middle" fill="#231f20">TCGA PanCancer AML</text>
<text x="48.80" y="452.60" font-size="8.8" fill="#231f20"><tspan font-style="italic">n</tspan> = 165</text>
<text x="48.80" y="463.80" font-size="8.8" fill="#231f20"><tspan font-style="italic">P</tspan> = 0.03</text>
<text transform="translate(9.60,505.00) rotate(-90)" font-size="8.8" text-anchor="middle" fill="#231f20">ISYNA1 expression</text>
<text transform="translate(21.60,505.50) rotate(-90)" font-size="8.8" text-anchor="middle" fill="#231f20">(RSEM, log<tspan font-size="5.5" dy="1.5">2</tspan><tspan dy="-1.5">)</tspan></text>
<circle cx="54.80" cy="481.30" r="1.20" fill="#f7941d"/>
<circle cx="59.80" cy="480.90" r="1.20" fill="#f7941d"/>
<circle cx="59.80" cy="483.20" r="1.20" fill="#f7941d"/>
<circle cx="64.20" cy="482.90" r="1.20" fill="#f7941d"/>
<circle cx="59.50" cy="486.90" r="1.20" fill="#f7941d"/>
<circle cx="54.50" cy="488.90" r="1.20" fill="#f7941d"/>
<circle cx="54.50" cy="492.30" r="1.20" fill="#f7941d"/>
<circle cx="64.20" cy="491.60" r="1.20" fill="#f7941d"/>
<circle cx="57.50" cy="494.60" r="1.20" fill="#f7941d"/>
<circle cx="54.50" cy="503.10" r="1.20" fill="#f7941d"/>
<circle cx="64.20" cy="503.30" r="1.20" fill="#f7941d"/>
<circle cx="59.50" cy="505.50" r="1.20" fill="#f7941d"/>
<circle cx="59.90" cy="511.80" r="1.20" fill="#f7941d"/>
<circle cx="57.20" cy="515.20" r="1.20" fill="#f7941d"/>
<circle cx="61.80" cy="515.90" r="1.20" fill="#f7941d"/>
<circle cx="59.60" cy="531.60" r="1.20" fill="#f7941d"/>
<circle cx="86.39" cy="470.84" r="1.30" fill="#3d85c6"/>
<circle cx="85.23" cy="473.09" r="1.30" fill="#3d85c6"/>
<circle cx="87.74" cy="473.07" r="1.30" fill="#3d85c6"/>
<circle cx="83.42" cy="474.67" r="1.30" fill="#3d85c6"/>
<circle cx="86.61" cy="474.85" r="1.30" fill="#3d85c6"/>
<circle cx="89.13" cy="474.31" r="1.30" fill="#3d85c6"/>
<circle cx="82.45" cy="476.50" r="1.30" fill="#3d85c6"/>
<circle cx="85.06" cy="476.82" r="1.30" fill="#3d85c6"/>
<circle cx="87.23" cy="476.47" r="1.30" fill="#3d85c6"/>
<circle cx="89.97" cy="477.17" r="1.30" fill="#3d85c6"/>
<circle cx="81.39" cy="478.46" r="1.30" fill="#3d85c6"/>
<circle cx="83.96" cy="478.44" r="1.30" fill="#3d85c6"/>
<circle cx="86.38" cy="478.43" r="1.30" fill="#3d85c6"/>
<circle cx="88.50" cy="479.17" r="1.30" fill="#3d85c6"/>
<circle cx="91.20" cy="478.52" r="1.30" fill="#3d85c6"/>
<circle cx="80.26" cy="481.22" r="1.30" fill="#3d85c6"/>
<circle cx="82.33" cy="481.31" r="1.30" fill="#3d85c6"/>
<circle cx="85.05" cy="481.03" r="1.30" fill="#3d85c6"/>
<circle cx="87.37" cy="481.29" r="1.30" fill="#3d85c6"/>
<circle cx="90.26" cy="481.32" r="1.30" fill="#3d85c6"/>
<circle cx="92.95" cy="480.65" r="1.30" fill="#3d85c6"/>
<circle cx="81.10" cy="482.57" r="1.30" fill="#3d85c6"/>
<circle cx="83.50" cy="482.47" r="1.30" fill="#3d85c6"/>
<circle cx="86.16" cy="483.00" r="1.30" fill="#3d85c6"/>
<circle cx="88.50" cy="483.08" r="1.30" fill="#3d85c6"/>
<circle cx="91.29" cy="482.71" r="1.30" fill="#3d85c6"/>
<circle cx="80.15" cy="484.93" r="1.30" fill="#3d85c6"/>
<circle cx="82.35" cy="484.93" r="1.30" fill="#3d85c6"/>
<circle cx="85.17" cy="484.51" r="1.30" fill="#3d85c6"/>
<circle cx="87.91" cy="484.47" r="1.30" fill="#3d85c6"/>
<circle cx="90.30" cy="485.29" r="1.30" fill="#3d85c6"/>
<circle cx="92.34" cy="485.24" r="1.30" fill="#3d85c6"/>
<circle cx="78.56" cy="487.08" r="1.30" fill="#3d85c6"/>
<circle cx="80.86" cy="486.55" r="1.30" fill="#3d85c6"/>
<circle cx="83.53" cy="487.46" r="1.30" fill="#3d85c6"/>
<circle cx="86.09" cy="487.26" r="1.30" fill="#3d85c6"/>
<circle cx="89.15" cy="487.44" r="1.30" fill="#3d85c6"/>
<circle cx="91.29" cy="486.85" r="1.30" fill="#3d85c6"/>
<circle cx="93.97" cy="487.28" r="1.30" fill="#3d85c6"/>
<circle cx="79.65" cy="489.30" r="1.30" fill="#3d85c6"/>
<circle cx="82.68" cy="489.41" r="1.30" fill="#3d85c6"/>
<circle cx="84.70" cy="489.50" r="1.30" fill="#3d85c6"/>
<circle cx="87.29" cy="488.89" r="1.30" fill="#3d85c6"/>
<circle cx="90.20" cy="489.47" r="1.30" fill="#3d85c6"/>
<circle cx="92.56" cy="489.47" r="1.30" fill="#3d85c6"/>
<circle cx="78.68" cy="490.91" r="1.30" fill="#3d85c6"/>
<circle cx="81.07" cy="490.78" r="1.30" fill="#3d85c6"/>
<circle cx="83.45" cy="490.75" r="1.30" fill="#3d85c6"/>
<circle cx="86.43" cy="491.60" r="1.30" fill="#3d85c6"/>
<circle cx="88.61" cy="490.65" r="1.30" fill="#3d85c6"/>
<circle cx="91.74" cy="491.13" r="1.30" fill="#3d85c6"/>
<circle cx="93.88" cy="490.84" r="1.30" fill="#3d85c6"/>
<circle cx="79.99" cy="493.48" r="1.30" fill="#3d85c6"/>
<circle cx="82.44" cy="493.07" r="1.30" fill="#3d85c6"/>
<circle cx="84.71" cy="493.57" r="1.30" fill="#3d85c6"/>
<circle cx="87.25" cy="493.14" r="1.30" fill="#3d85c6"/>
<circle cx="90.36" cy="492.78" r="1.30" fill="#3d85c6"/>
<circle cx="92.84" cy="493.60" r="1.30" fill="#3d85c6"/>
<circle cx="78.74" cy="495.49" r="1.30" fill="#3d85c6"/>
<circle cx="80.92" cy="495.13" r="1.30" fill="#3d85c6"/>
<circle cx="83.50" cy="495.54" r="1.30" fill="#3d85c6"/>
<circle cx="86.16" cy="495.15" r="1.30" fill="#3d85c6"/>
<circle cx="89.20" cy="495.55" r="1.30" fill="#3d85c6"/>
<circle cx="91.73" cy="495.15" r="1.30" fill="#3d85c6"/>
<circle cx="93.94" cy="495.43" r="1.30" fill="#3d85c6"/>
<circle cx="79.91" cy="497.04" r="1.30" fill="#3d85c6"/>
<circle cx="82.41" cy="496.90" r="1.30" fill="#3d85c6"/>
<circle cx="84.94" cy="497.74" r="1.30" fill="#3d85c6"/>
<circle cx="87.90" cy="497.38" r="1.30" fill="#3d85c6"/>
<circle cx="90.12" cy="497.09" r="1.30" fill="#3d85c6"/>
<circle cx="92.39" cy="497.02" r="1.30" fill="#3d85c6"/>
<circle cx="81.40" cy="499.67" r="1.30" fill="#3d85c6"/>
<circle cx="83.65" cy="499.59" r="1.30" fill="#3d85c6"/>
<circle cx="86.49" cy="499.49" r="1.30" fill="#3d85c6"/>
<circle cx="88.96" cy="499.56" r="1.30" fill="#3d85c6"/>
<circle cx="91.30" cy="499.50" r="1.30" fill="#3d85c6"/>
<circle cx="82.32" cy="501.34" r="1.30" fill="#3d85c6"/>
<circle cx="85.21" cy="501.54" r="1.30" fill="#3d85c6"/>
<circle cx="87.43" cy="501.80" r="1.30" fill="#3d85c6"/>
<circle cx="90.23" cy="501.43" r="1.30" fill="#3d85c6"/>
<circle cx="83.41" cy="503.45" r="1.30" fill="#3d85c6"/>
<circle cx="86.13" cy="503.57" r="1.30" fill="#3d85c6"/>
<circle cx="88.82" cy="503.72" r="1.30" fill="#3d85c6"/>
<circle cx="85.13" cy="505.75" r="1.30" fill="#3d85c6"/>
<circle cx="87.47" cy="505.59" r="1.30" fill="#3d85c6"/>
<circle cx="83.92" cy="507.83" r="1.30" fill="#3d85c6"/>
<circle cx="86.20" cy="507.84" r="1.30" fill="#3d85c6"/>
<circle cx="89.11" cy="507.69" r="1.30" fill="#3d85c6"/>
<circle cx="85.36" cy="510.01" r="1.30" fill="#3d85c6"/>
<circle cx="87.59" cy="509.58" r="1.30" fill="#3d85c6"/>
<circle cx="86.07" cy="511.94" r="1.30" fill="#3d85c6"/>
<circle cx="86.74" cy="463.20" r="1.30" fill="#3d85c6"/>
<circle cx="86.28" cy="467.60" r="1.30" fill="#3d85c6"/>
<circle cx="86.49" cy="514.20" r="1.30" fill="#3d85c6"/>
<circle cx="86.52" cy="517.40" r="1.30" fill="#3d85c6"/>
<circle cx="86.53" cy="520.30" r="1.30" fill="#3d85c6"/>
<circle cx="85.97" cy="528.70" r="1.30" fill="#3d85c6"/>
<circle cx="86.58" cy="540.70" r="1.30" fill="#3d85c6"/>
<line x1="50.70" y1="495.70" x2="68.60" y2="495.70" stroke="#000" stroke-width="1.3"/>
<line x1="77.60" y1="489.30" x2="95.00" y2="489.30" stroke="#000" stroke-width="1.3"/>
<text x="118.40" y="489.20" font-size="8.8" font-style="italic" fill="#231f20">IDH2</text>
<circle cx="118.60" cy="501.90" r="3.50" fill="#f7941d"/>
<text x="127.40" y="505.00" font-size="8.8" fill="#231f20">MUT</text>
<circle cx="118.60" cy="518.80" r="3.50" fill="#3d85c6"/>
<text x="127.40" y="522.30" font-size="8.8" fill="#231f20">WT</text>
<line x1="188.30" y1="478.50" x2="252.30" y2="478.50" stroke="#737477" stroke-width="0.9"/>
<line x1="188.30" y1="481.30" x2="252.30" y2="481.30" stroke="#737477" stroke-width="0.9"/>
<path d="M216.0,469.40000000000003 C212.39999999999998,468.2 210.6,472.3 211.0,478.8 C211.29999999999998,485.8 213.0,491.2 219.2,492.0 C225.39999999999998,491.2 227.1,485.8 227.39999999999998,478.8 C227.79999999999998,472.3 226.0,468.2 222.39999999999998,469.40000000000003 C220.79999999999998,470.0 220.2,471.6 219.2,471.8 C218.2,471.6 217.6,470.0 216.0,469.40000000000003 Z" fill="#fbc469" stroke="#f3a63c" stroke-width="0.8"/>
<path d="M216.0,471.0 C215.2,476.8 217.0,483.8 218.7,489.8 L219.7,489.8 C221.39999999999998,483.8 223.2,476.8 222.39999999999998,471.0 C220.79999999999998,472.6 217.6,472.6 216.0,471.0 Z" fill="#f6a03a" fill-opacity="0.55" stroke="#ea8a28" stroke-width="0.5"/>
<circle cx="206.90" cy="456.00" r="1.75" fill="#3b4396"/>
<circle cx="214.60" cy="460.40" r="1.75" fill="#3b4396"/>
<circle cx="224.40" cy="456.00" r="1.75" fill="#3b4396"/>
<circle cx="220.40" cy="466.20" r="1.75" fill="#3b4396"/>
<circle cx="219.20" cy="479.00" r="1.75" fill="#3b4396"/>
<circle cx="217.10" cy="496.10" r="1.75" fill="#3b4396"/>
<circle cx="224.40" cy="501.10" r="1.75" fill="#3b4396"/>
<circle cx="215.20" cy="506.60" r="1.75" fill="#3b4396"/>
<text x="230.60" y="475.50" font-size="8.8" fill="#231f20">SLC5A3</text>
<line x1="301.60" y1="478.50" x2="365.60" y2="478.50" stroke="#737477" stroke-width="0.9"/>
<line x1="301.60" y1="481.30" x2="365.60" y2="481.30" stroke="#737477" stroke-width="0.9"/>
<path d="M329.3,469.40000000000003 C325.7,468.2 323.9,472.3 324.3,478.8 C324.6,485.8 326.3,491.2 332.5,492.0 C338.7,491.2 340.4,485.8 340.7,478.8 C341.1,472.3 339.3,468.2 335.7,469.40000000000003 C334.1,470.0 333.5,471.6 332.5,471.8 C331.5,471.6 330.9,470.0 329.3,469.40000000000003 Z" fill="#fbc469" stroke="#f3a63c" stroke-width="0.8"/>
<path d="M329.3,471.0 C328.5,476.8 330.3,483.8 332.0,489.8 L333.0,489.8 C334.7,483.8 336.5,476.8 335.7,471.0 C334.1,472.6 330.9,472.6 329.3,471.0 Z" fill="#f6a03a" fill-opacity="0.55" stroke="#ea8a28" stroke-width="0.5"/>
<circle cx="320.20" cy="456.00" r="1.75" fill="#3b4396"/>
<circle cx="327.90" cy="460.40" r="1.75" fill="#3b4396"/>
<circle cx="337.70" cy="456.00" r="1.75" fill="#3b4396"/>
<circle cx="333.70" cy="466.20" r="1.75" fill="#3b4396"/>
<circle cx="332.50" cy="479.00" r="1.75" fill="#3b4396"/>
<circle cx="330.40" cy="496.10" r="1.75" fill="#3b4396"/>
<circle cx="337.70" cy="501.10" r="1.75" fill="#3b4396"/>
<circle cx="328.50" cy="506.60" r="1.75" fill="#3b4396"/>
<text x="343.90" y="475.50" font-size="8.8" fill="#231f20">SLC5A3</text>
<text x="191.50" y="441.60" font-size="8.9" fill="#231f20">SLC5A3 dependent</text>
<text x="296.90" y="441.60" font-size="8.9" fill="#231f20">SLC5A3 independent</text>
<line x1="194.00" y1="551.90" x2="258.50" y2="551.90" stroke="#231f20" stroke-width="0.8"/>
<text x="195.60" y="549.60" font-size="8.8" font-style="italic" fill="#231f20">ISYNA1</text>
<path d="M232.4,552.1 V539.5 H224.5" fill="none" stroke="#231f20" stroke-width="0.7"/>
<path d="M222,539.5 L225,538.1 L225,540.9 Z" fill="#231f20"/>
<line x1="239.20" y1="545.00" x2="239.20" y2="552.10" stroke="#231f20" stroke-width="0.8"/>
<circle cx="239.20" cy="545.20" r="2.90" fill="#000"/>
<line x1="246.50" y1="545.00" x2="246.50" y2="552.10" stroke="#231f20" stroke-width="0.8"/>
<circle cx="246.50" cy="545.20" r="2.90" fill="#000"/>
<line x1="253.70" y1="545.00" x2="253.70" y2="552.10" stroke="#231f20" stroke-width="0.8"/>
<circle cx="253.70" cy="545.20" r="2.90" fill="#000"/>
<path d="M250,540 C248.8,534.2 245.6,530.4 241,530.9 L233,532.6" fill="none" stroke="#3a3a3c" stroke-width="0.8"/>
<line x1="230.90" y1="530.40" x2="233.50" y2="535.00" stroke="#3a3a3c" stroke-width="0.8"/>
<line x1="310.00" y1="552.10" x2="374.60" y2="552.10" stroke="#231f20" stroke-width="0.8"/>
<text x="310.70" y="549.40" font-size="8.8" font-style="italic" fill="#231f20">ISYNA1</text>
<path d="M348.5,552.1 V539.5 H340.8" fill="none" stroke="#231f20" stroke-width="0.7"/>
<path d="M338.2,539.5 L341.2,538.1 L341.2,540.9 Z" fill="#231f20"/>
<line x1="355.00" y1="547.00" x2="355.00" y2="552.10" stroke="#4d4d4f" stroke-width="0.6"/>
<circle cx="355.00" cy="544.60" r="2.50" fill="#fff" stroke="#4d4d4f" stroke-width="0.6"/>
<line x1="362.40" y1="547.00" x2="362.40" y2="552.10" stroke="#4d4d4f" stroke-width="0.6"/>
<circle cx="362.40" cy="544.60" r="2.50" fill="#fff" stroke="#4d4d4f" stroke-width="0.6"/>
<line x1="369.60" y1="547.00" x2="369.60" y2="552.10" stroke="#4d4d4f" stroke-width="0.6"/>
<circle cx="369.60" cy="544.60" r="2.50" fill="#fff" stroke="#4d4d4f" stroke-width="0.6"/>
<circle cx="307.20" cy="522.70" r="1.70" fill="#e5337f"/>
<circle cx="303.80" cy="528.50" r="1.70" fill="#e5337f"/>
<circle cx="312.30" cy="530.30" r="1.70" fill="#e5337f"/>
<path d="M318,527.4 C327,527.4 333,523 333.4,513" fill="none" stroke="#000" stroke-width="0.7"/>
<path d="M333.5,508.8 L330.7,514.2 L336.3,514.2 Z" fill="#000"/>
<ellipse cx="358.8" cy="520" rx="21.6" ry="10.2" fill="url(#isy)"/>
<text x="360.20" y="523.00" font-size="8.7" text-anchor="middle" fill="#231f20">ISYNA1</text>
<line x1="406.50" y1="476.00" x2="406.50" y2="482.20" stroke="#000" stroke-width="0.6"/>
<circle cx="406.50" cy="475.50" r="2.80" fill="#000"/>
<text x="415.00" y="480.00" font-size="8.9" fill="#231f20">Methylated CpG</text>
<line x1="406.50" y1="494.00" x2="406.50" y2="498.50" stroke="#4d4d4f" stroke-width="0.6"/>
<circle cx="406.50" cy="491.70" r="2.50" fill="#fff" stroke="#4d4d4f" stroke-width="0.6"/>
<text x="415.00" y="496.20" font-size="8.9" fill="#231f20">Unmethylated CpG</text>
<circle cx="406.50" cy="516.40" r="1.70" fill="#3b4396"/>
<text x="415.00" y="519.00" font-size="8.9" fill="#231f20">Myo-inositol</text>
<circle cx="406.50" cy="533.30" r="1.70" fill="#e5337f"/>
<text x="415.00" y="536.50" font-size="8.9" fill="#231f20">Glucose</text>
</svg>
</body></html>
